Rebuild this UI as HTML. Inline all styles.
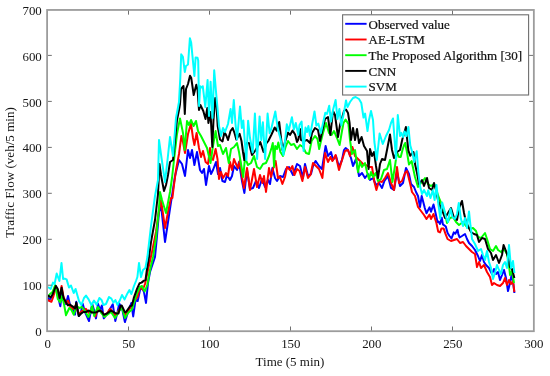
<!DOCTYPE html>
<html><head><meta charset="utf-8"><title>Traffic Flow</title>
<style>html,body{margin:0;padding:0;background:#fff}svg{display:block}text{font-family:"Liberation Serif","Times New Roman",serif;fill:#161616}</style></head><body>
<svg width="550" height="376" viewBox="0 0 550 376">
<rect width="550" height="376" fill="#fff"/>
<g>
<polyline points="47.8,297.0 49.0,300.5 51.0,298.0 53.5,294.0 56.0,286.5 58.0,296.0 60.3,306.3 62.0,292.0 64.0,300.0 66.0,304.0 68.0,296.0 70.0,305.0 72.5,308.0 75.0,314.6 76.3,301.8 78.8,316.0 81.0,312.0 82.7,303.7 85.0,312.0 89.0,321.0 92.2,303.7 94.0,310.0 96.0,318.4 98.0,303.7 100.0,310.0 101.9,305.5 103.8,318.3 107.0,314.0 110.0,309.0 112.8,304.3 115.3,320.9 117.5,312.0 119.2,303.6 122.0,308.0 124.9,322.1 128.0,312.0 131.3,303.0 133.2,316.4 135.5,300.0 137.7,301.0 140.0,290.0 142.0,287.7 144.0,292.0 146.0,303.0 148.0,283.0 150.0,272.0 155.0,257.0 157.0,236.0 159.0,212.0 161.0,205.0 165.0,242.0 168.0,222.0 171.0,202.0 172.0,196.0 175.0,176.0 179.0,160.0 182.0,164.0 185.0,176.0 188.0,150.0 190.0,158.0 192.0,150.0 194.4,165.0 197.0,152.0 200.0,170.0 202.0,173.0 204.0,169.0 206.0,185.0 209.0,166.0 211.0,174.0 213.0,170.0 216.0,162.0 218.0,174.0 220.0,168.0 222.4,181.0 225.0,182.0 227.0,175.0 230.0,180.0 232.0,176.0 234.0,166.0 237.0,170.0 239.0,162.0 242.0,181.0 244.4,193.0 247.0,170.0 250.0,189.0 253.0,188.0 256.0,181.0 259.0,188.0 262.0,179.0 265.0,187.0 268.0,180.0 270.0,184.0 272.4,168.0 275.0,178.0 277.0,181.0 280.0,176.0 283.0,177.0 286.0,169.0 289.0,167.0 293.0,175.0 297.0,164.0 300.0,166.0 303.0,178.0 305.0,164.0 308.0,176.0 311.0,174.0 313.0,166.0 315.6,161.0 319.0,166.0 322.0,169.0 325.6,146.0 328.0,156.0 331.0,152.0 333.0,160.0 336.0,156.0 339.0,167.0 342.0,160.0 344.0,150.0 345.6,148.0 348.0,150.0 351.0,158.0 353.0,166.0 356.0,159.0 359.0,176.0 362.0,173.0 365.0,178.0 368.0,174.0 370.0,180.0 373.0,178.0 376.0,185.0 379.0,183.0 382.0,188.0 384.4,181.0 388.0,176.0 391.0,188.0 394.0,190.0 397.0,172.0 400.0,186.0 403.0,183.0 406.0,168.0 409.0,174.0 411.0,184.0 414.0,187.0 416.0,192.0 418.0,196.0 420.0,207.0 421.7,196.0 423.0,201.0 424.8,208.0 426.5,213.2 429.5,207.4 431.0,211.7 433.5,204.5 435.6,213.2 437.5,222.0 438.5,221.5 440.0,224.0 441.8,217.8 442.9,224.4 445.8,226.5 447.6,233.0 449.5,236.0 451.5,238.5 453.8,232.4 455.3,233.8 457.5,229.8 458.3,233.8 459.6,237.5 462.0,236.0 465.0,234.0 467.0,239.0 469.0,243.0 472.0,246.0 475.0,250.0 478.0,256.0 480.0,261.0 482.0,255.0 484.0,262.0 486.0,265.0 489.0,268.0 492.0,274.0 494.0,269.0 496.0,274.0 498.0,272.0 500.0,280.0 502.0,275.0 504.0,270.0 506.0,278.0 508.0,291.0 510.0,283.0 512.0,273.0 514.4,293.0" fill="none" stroke="#0000ff" stroke-width="2.0" stroke-linejoin="round" stroke-linecap="butt"/>
<polyline points="47.8,300.0 51.4,301.8 53.3,296.7 55.9,286.5 58.0,292.0 59.7,298.0 61.6,285.9 63.5,297.0 66.0,303.0 68.0,300.5 70.0,306.0 73.0,309.0 76.0,305.0 78.5,314.0 82.0,311.0 85.9,308.8 89.0,313.0 92.0,309.0 95.4,316.5 98.0,309.0 102.0,312.0 105.0,316.0 108.0,312.0 110.0,308.8 113.0,312.0 116.0,316.0 119.0,310.0 122.0,307.0 125.0,315.0 128.0,311.0 131.0,307.0 134.0,301.0 137.7,296.6 140.0,287.0 142.8,289.6 145.0,284.0 148.0,270.0 152.0,252.0 156.0,232.0 159.0,210.0 161.0,200.0 165.0,228.0 168.0,212.0 171.0,198.0 172.4,198.0 174.0,185.0 176.0,170.0 179.0,154.0 181.4,136.0 183.0,142.0 185.0,153.0 188.0,134.0 191.0,123.6 193.0,138.0 194.4,145.0 196.6,133.0 199.0,148.0 201.0,157.0 203.0,151.0 205.6,162.0 208.0,164.0 210.0,148.0 211.5,158.0 213.0,160.0 215.6,149.0 217.5,159.0 219.0,179.0 221.0,172.0 223.0,178.0 226.0,173.0 228.0,176.0 230.0,162.0 232.0,170.0 234.0,159.0 236.0,164.0 238.0,168.0 240.0,160.0 242.0,177.0 244.0,188.0 247.0,168.0 250.0,190.0 254.0,169.0 257.0,187.0 260.0,175.0 262.4,183.0 264.0,176.0 266.0,192.0 269.0,168.0 271.0,177.0 273.0,169.0 275.6,161.0 278.0,178.0 280.0,177.0 282.4,184.0 285.0,177.0 287.0,167.0 290.0,170.0 292.4,166.0 294.4,175.0 297.0,169.0 299.6,171.0 302.4,181.0 305.0,167.0 308.0,178.0 310.4,175.0 313.0,163.0 316.0,166.0 319.0,169.0 322.4,178.0 325.0,153.0 328.0,162.0 330.4,157.0 332.4,161.0 335.6,155.0 339.0,170.0 342.0,160.0 345.0,151.0 348.0,150.0 350.0,156.0 352.4,147.0 355.0,156.0 358.0,159.0 361.0,162.0 363.0,164.0 366.0,165.0 369.0,167.0 372.0,167.0 374.4,182.0 376.4,190.0 379.0,181.0 382.0,182.0 385.0,178.0 388.0,173.0 391.0,183.0 394.0,190.0 397.0,167.0 399.0,183.0 402.0,181.0 405.0,173.0 407.0,171.0 410.0,183.0 412.0,192.0 415.0,196.0 418.0,207.0 421.0,211.0 424.0,215.0 426.5,219.0 429.5,214.6 431.0,219.0 433.5,214.0 435.6,220.5 436.4,223.0 438.2,231.6 440.0,232.4 441.5,228.4 443.6,228.4 445.5,233.8 447.5,239.0 451.0,241.0 454.0,240.0 457.0,239.0 460.0,243.0 463.0,242.0 466.0,246.0 469.0,249.0 472.0,252.0 475.0,254.0 477.0,267.0 479.0,262.0 481.0,268.0 484.0,265.0 487.0,272.0 490.0,277.0 492.0,285.0 494.0,283.0 497.0,285.0 500.0,286.0 503.0,283.0 505.0,278.0 507.0,285.0 509.0,280.0 511.0,284.0 513.0,281.0 514.4,292.0" fill="none" stroke="#ff0000" stroke-width="2.0" stroke-linejoin="round" stroke-linecap="butt"/>
<polyline points="47.8,297.0 50.0,294.0 52.5,292.0 55.2,285.2 57.8,299.0 60.3,302.5 62.0,296.0 64.0,304.0 66.0,315.2 69.3,308.0 71.5,310.0 73.7,314.6 76.5,306.0 79.5,308.0 82.0,307.0 85.0,311.0 88.4,317.0 90.5,312.0 92.2,305.6 94.2,316.0 96.0,311.0 98.0,307.0 101.2,313.0 104.4,317.0 107.0,315.0 111.0,312.0 115.0,318.0 117.5,314.0 119.0,311.0 122.0,308.0 125.0,318.0 128.0,313.0 131.9,309.4 134.0,303.0 137.0,293.0 140.0,287.0 142.0,286.0 144.7,291.5 147.3,285.0 150.0,270.0 153.0,257.0 156.0,238.0 159.0,208.0 160.0,192.0 162.0,200.0 166.0,213.0 170.0,192.0 172.0,178.0 174.0,160.0 177.0,134.0 180.0,118.4 183.0,133.0 184.7,150.0 187.0,121.0 189.0,125.0 191.0,120.0 193.6,126.0 196.0,121.0 198.0,131.0 201.0,136.0 204.0,142.0 207.0,148.0 210.5,163.0 213.0,146.0 215.6,131.0 218.0,146.0 220.0,145.0 223.0,154.0 226.0,148.0 228.8,163.0 231.0,149.0 234.0,147.0 237.0,143.0 239.0,152.0 240.0,158.0 243.2,177.0 245.0,158.0 248.0,165.0 251.0,163.0 254.0,156.0 257.0,167.0 260.0,169.0 263.0,164.0 266.0,163.0 269.0,156.0 271.5,148.0 272.8,143.0 274.1,167.0 275.2,146.0 277.0,149.0 278.3,142.5 280.4,152.0 283.0,156.0 285.6,147.0 288.0,141.0 291.0,145.0 294.0,144.0 297.0,149.0 300.0,145.0 303.0,147.0 306.0,153.0 309.0,154.0 311.6,141.0 315.0,136.0 317.5,139.0 319.2,149.0 321.0,141.0 323.0,133.0 326.0,123.0 329.0,133.0 331.6,135.0 334.0,131.0 337.0,138.0 339.6,145.0 342.0,131.0 343.5,123.0 345.6,119.5 348.4,124.0 350.0,140.0 352.0,154.0 355.0,150.0 358.0,172.0 360.0,162.0 362.0,167.0 365.0,163.0 367.0,172.0 369.0,179.0 371.0,172.0 373.0,177.0 375.6,173.0 378.0,181.0 381.0,179.0 384.0,170.0 387.0,169.0 390.0,160.0 392.4,182.0 395.0,166.0 397.0,152.0 399.0,157.0 400.7,157.0 402.5,150.0 403.9,145.5 405.2,143.0 407.1,153.0 409.0,164.5 411.6,161.0 413.5,170.0 415.0,177.0 418.0,187.0 421.0,183.0 423.0,181.0 425.0,178.0 428.0,184.0 431.0,186.0 434.0,184.0 437.0,192.0 439.0,198.0 442.0,205.0 445.0,213.0 447.0,223.0 450.0,218.0 453.0,217.0 456.0,222.0 459.0,225.0 463.0,222.0 466.0,226.0 470.0,229.0 473.0,228.0 476.0,231.0 478.0,237.0 481.0,238.0 485.0,233.0 487.0,239.0 490.0,249.0 493.0,251.0 496.0,246.0 498.0,250.0 501.0,252.0 504.0,249.0 507.0,254.0 509.0,265.0 510.0,275.0 512.0,271.0 514.0,283.0" fill="none" stroke="#00ff00" stroke-width="2.0" stroke-linejoin="round" stroke-linecap="butt"/>
<polyline points="47.8,295.4 50.7,297.3 52.7,294.2 55.9,285.9 57.8,289.0 59.7,298.0 61.6,287.8 63.5,298.0 66.1,302.5 68.0,305.4 69.9,304.6 72.5,306.3 75.0,308.5 76.3,302.5 78.0,312.0 78.8,316.0 81.4,313.3 83.3,312.0 85.9,312.0 89.0,310.5 91.6,312.4 96.0,312.4 100.0,310.5 101.9,311.9 103.8,314.7 107.0,313.5 110.9,310.6 113.4,311.9 116.0,313.5 118.5,313.5 120.4,306.2 121.7,305.5 124.9,312.2 126.2,311.9 130.0,306.2 131.9,305.5 133.8,297.9 137.0,288.9 139.6,283.2 141.5,282.6 144.0,280.6 145.5,280.0 147.0,269.0 149.0,257.0 151.0,242.0 155.0,220.0 158.0,194.0 159.5,164.0 161.0,175.0 164.0,191.0 166.0,185.0 168.0,175.0 170.0,162.0 173.0,160.0 175.0,140.0 177.0,120.0 179.0,110.0 180.0,104.0 181.0,89.0 183.5,86.0 184.8,114.0 186.0,89.0 188.0,84.0 190.0,75.7 191.2,77.7 193.7,95.0 196.3,84.7 197.6,90.4 199.0,110.0 200.4,105.0 203.3,111.0 205.5,119.0 207.3,108.0 208.4,123.0 210.5,112.0 212.3,147.0 213.5,120.0 215.2,98.0 216.5,106.0 217.7,126.0 220.0,139.5 222.5,141.5 224.5,132.0 226.5,136.0 228.0,140.0 230.5,131.0 232.7,128.0 234.5,133.0 236.4,139.6 239.6,133.8 241.5,141.0 243.0,152.0 244.3,160.0 247.0,143.0 249.0,143.0 252.0,155.0 255.0,151.0 258.0,146.0 260.3,142.0 263.5,152.0 266.3,143.5 268.3,141.0 271.5,134.5 274.7,127.5 276.6,130.6 279.2,122.0 280.4,132.0 282.4,150.0 285.0,142.0 288.1,132.6 290.0,135.0 292.6,130.6 295.1,134.5 297.0,142.0 298.3,139.6 300.0,129.0 301.0,140.0 304.0,141.0 307.0,140.0 310.0,143.0 312.0,133.0 315.0,128.0 318.0,130.0 320.0,141.0 322.0,132.0 325.0,119.0 328.0,117.0 330.4,135.0 333.0,111.0 335.0,115.0 338.0,137.0 340.0,125.0 342.0,118.0 344.0,111.0 346.0,109.5 348.0,113.0 349.6,123.0 351.0,140.0 353.0,128.0 355.0,140.0 357.0,129.0 359.0,143.0 361.6,137.0 364.0,146.0 367.0,151.0 368.6,169.0 370.0,149.0 372.0,156.0 374.0,152.0 376.0,166.0 378.0,178.0 380.0,164.0 382.0,159.0 385.0,160.0 387.0,150.0 390.0,134.5 392.0,150.0 394.0,158.0 397.0,152.0 400.0,150.0 402.4,139.0 404.3,133.0 405.9,127.0 407.1,139.0 408.4,150.6 410.3,155.8 412.2,153.0 413.5,152.0 415.0,164.0 417.0,173.0 419.0,184.0 422.0,180.0 424.0,186.0 427.0,178.0 429.0,188.0 432.0,190.0 434.0,183.0 436.0,190.0 438.0,200.0 440.0,206.0 442.0,210.0 445.0,218.0 448.0,213.0 451.0,208.0 454.0,218.0 457.0,220.0 459.0,208.0 462.0,201.0 464.0,213.0 466.0,222.0 468.0,226.0 471.0,232.0 474.0,234.0 477.0,235.0 479.0,242.0 482.0,238.0 485.0,239.0 488.0,249.0 491.0,253.0 493.0,260.0 496.0,255.0 499.0,263.0 502.0,255.0 503.6,245.0 506.0,251.0 508.0,257.0 510.0,267.0 512.0,269.0 514.4,278.0" fill="none" stroke="#000000" stroke-width="2.0" stroke-linejoin="round" stroke-linecap="butt"/>
<polyline points="48.0,287.0 50.7,289.0 53.0,282.6 54.6,284.0 56.7,273.5 59.4,281.0 61.5,263.0 63.1,279.0 64.8,278.6 66.6,279.4 69.0,287.5 71.0,285.5 73.7,293.0 75.6,289.0 79.0,301.0 81.4,305.0 84.0,298.0 86.0,295.6 88.6,299.4 91.4,305.0 94.0,300.6 96.6,304.6 99.4,298.0 101.6,300.0 103.4,305.0 106.0,304.0 109.0,297.0 111.4,298.6 113.4,302.6 115.4,300.0 117.4,305.0 120.0,300.0 122.0,295.0 124.6,299.4 127.4,293.4 129.4,290.0 131.4,294.0 134.0,286.0 136.0,281.0 137.4,277.0 139.0,263.0 141.0,277.0 143.0,270.0 145.4,268.0 147.4,257.0 151.0,226.0 155.0,196.0 158.0,180.0 159.0,140.0 161.5,158.0 165.0,182.0 167.5,160.0 170.0,137.0 173.0,156.0 176.0,118.0 179.0,102.0 180.3,78.0 181.2,54.3 182.9,56.8 184.8,72.0 186.0,66.0 188.0,64.5 189.9,38.3 191.2,42.8 192.4,55.5 194.4,76.0 195.6,57.5 197.5,57.8 198.2,60.6 199.1,106.0 200.2,86.3 201.5,87.5 202.8,86.3 205.3,107.0 207.6,79.9 209.0,116.0 210.6,81.8 212.5,118.0 214.2,70.3 216.2,94.0 217.5,108.0 219.0,126.0 221.0,136.0 223.0,128.0 225.0,132.0 228.0,124.0 230.6,109.0 232.0,123.0 233.8,100.0 235.5,124.0 237.1,139.4 240.0,106.5 241.8,128.0 243.3,120.4 244.8,142.0 246.4,160.0 248.1,120.7 250.0,138.0 252.7,152.5 254.9,113.5 257.1,159.0 259.6,116.4 261.3,140.0 262.9,122.2 265.1,159.0 267.6,113.5 269.6,133.2 271.1,129.4 275.3,111.5 277.9,129.4 280.4,138.3 283.5,155.0 286.8,124.3 288.7,130.7 291.9,117.2 293.9,129.4 295.8,123.0 298.3,135.0 299.5,125.0 301.6,121.5 303.6,151.0 305.5,127.5 307.0,132.0 308.4,126.0 310.0,135.8 314.5,111.5 316.4,125.5 318.3,123.6 320.9,133.0 323.5,121.0 325.3,112.8 327.0,114.0 329.2,105.7 331.0,121.7 333.0,110.0 335.6,100.0 337.5,119.0 339.4,109.0 341.3,125.5 343.9,112.8 346.0,100.5 347.5,107.0 350.0,102.0 353.0,98.0 355.6,97.0 359.0,99.0 361.3,103.0 363.5,117.5 365.1,113.6 367.5,131.0 369.0,120.0 371.0,111.0 373.0,120.0 374.4,142.0 376.8,160.0 379.6,133.5 382.8,144.0 386.0,136.0 389.0,130.0 391.0,123.0 393.0,118.5 396.0,159.0 397.8,115.0 400.0,136.0 401.4,132.8 403.0,137.0 404.6,131.5 406.5,136.0 408.4,127.0 410.3,145.5 412.2,152.0 414.2,162.0 416.7,151.3 418.3,172.0 420.0,186.0 422.0,194.0 424.0,190.0 427.0,196.0 428.2,190.3 430.5,198.0 432.7,190.3 434.6,200.0 436.5,185.0 438.4,204.4 440.3,218.4 442.2,202.5 444.2,209.5 446.0,217.0 448.0,222.0 450.5,208.8 452.5,217.0 455.0,219.0 457.0,214.0 458.8,203.0 460.8,218.4 463.0,226.0 465.0,218.0 467.0,228.0 469.0,211.4 470.5,226.0 471.3,232.0 472.0,239.0 475.0,244.0 478.0,251.0 481.0,249.0 483.0,255.0 485.0,260.0 487.0,251.0 489.0,262.0 491.0,268.0 493.0,279.0 495.0,273.0 497.0,265.0 499.0,270.0 501.0,274.0 503.0,265.0 505.0,262.0 507.0,268.0 509.0,245.0 511.0,268.0 513.0,261.0 514.4,273.0" fill="none" stroke="#00ffff" stroke-width="2.0" stroke-linejoin="round" stroke-linecap="butt"/>
</g>
<path d="M128.5,331.2v-4.7M128.5,9.95v4.7M209.5,331.2v-4.7M209.5,9.95v4.7M290.5,331.2v-4.7M290.5,9.95v4.7M371.5,331.2v-4.7M371.5,9.95v4.7M452.5,331.2v-4.7M452.5,9.95v4.7M47.1,285.2h4.7M533.85,285.2h-4.7M47.1,239.3h4.7M533.85,239.3h-4.7M47.1,193.3h4.7M533.85,193.3h-4.7M47.1,147.4h4.7M533.85,147.4h-4.7M47.1,101.4h4.7M533.85,101.4h-4.7M47.1,55.4h4.7M533.85,55.4h-4.7" stroke="#707070" stroke-width="1" fill="none"/>
<rect x="47.1" y="9.95" width="486.75" height="321.25" fill="none" stroke="#9c9c9c" stroke-width="1.8"/>
<text x="47.8" y="347.8" font-size="12.9" text-anchor="middle">0</text>
<text x="128.8" y="347.8" font-size="12.9" text-anchor="middle">50</text>
<text x="209.8" y="347.8" font-size="12.9" text-anchor="middle">100</text>
<text x="290.8" y="347.8" font-size="12.9" text-anchor="middle">150</text>
<text x="371.8" y="347.8" font-size="12.9" text-anchor="middle">200</text>
<text x="452.8" y="347.8" font-size="12.9" text-anchor="middle">250</text>
<text x="533.8" y="347.8" font-size="12.9" text-anchor="middle">300</text>
<text x="41.8" y="335.9" font-size="12.9" text-anchor="end">0</text>
<text x="41.8" y="290.0" font-size="12.9" text-anchor="end">100</text>
<text x="41.8" y="244.1" font-size="12.9" text-anchor="end">200</text>
<text x="41.8" y="198.2" font-size="12.9" text-anchor="end">300</text>
<text x="41.8" y="152.3" font-size="12.9" text-anchor="end">400</text>
<text x="41.8" y="106.5" font-size="12.9" text-anchor="end">500</text>
<text x="41.8" y="60.6" font-size="12.9" text-anchor="end">600</text>
<text x="41.8" y="14.7" font-size="12.9" text-anchor="end">700</text>
<text x="290" y="366" font-size="13.0" text-anchor="middle">Time (5 min)</text>
<text transform="translate(13.9,172.4) rotate(-90)" font-size="13.1" text-anchor="middle">Traffic Flow (veh/5 min)</text>
<rect x="342.6" y="14.8" width="186" height="80.2" fill="#fff" stroke="#6e6e6e" stroke-width="1.1"/>
<line x1="345.2" y1="23.8" x2="366.6" y2="23.8" stroke="#0000ff" stroke-width="1.9"/>
<text x="368.6" y="28.5" font-size="13.0" fill="#000" stroke="#000" stroke-width="0.22">Observed value</text>
<line x1="345.2" y1="39.5" x2="366.6" y2="39.5" stroke="#ff0000" stroke-width="1.9"/>
<text x="368.6" y="44.2" font-size="13.0" fill="#000" stroke="#000" stroke-width="0.22">AE-LSTM</text>
<line x1="345.2" y1="55.2" x2="366.6" y2="55.2" stroke="#00ff00" stroke-width="1.9"/>
<text x="368.6" y="59.9" font-size="13.0" fill="#000" stroke="#000" stroke-width="0.22">The Proposed Algorithm [30]</text>
<line x1="345.2" y1="70.9" x2="366.6" y2="70.9" stroke="#000000" stroke-width="1.9"/>
<text x="368.6" y="75.6" font-size="13.0" fill="#000" stroke="#000" stroke-width="0.22">CNN</text>
<line x1="345.2" y1="86.6" x2="366.6" y2="86.6" stroke="#00ffff" stroke-width="1.9"/>
<text x="368.6" y="91.3" font-size="13.0" fill="#000" stroke="#000" stroke-width="0.22">SVM</text>
</svg></body></html>
